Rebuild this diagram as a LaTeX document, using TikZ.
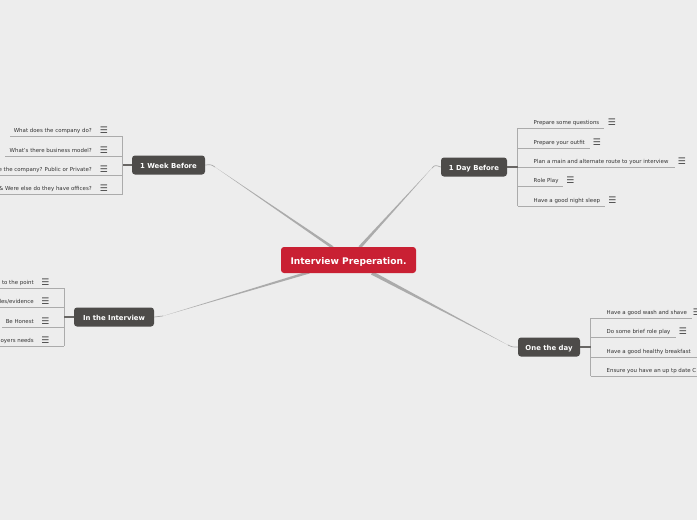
\documentclass[tikz,border=0pt]{standalone}
\usepackage{fontspec}
\setmainfont{DejaVu Sans}
\usetikzlibrary{calc}
\definecolor{paper}{HTML}{EDEDED}
\definecolor{rootred}{HTML}{C92033}
\definecolor{topicgrey}{HTML}{4D4B49}
\definecolor{branchgrey}{HTML}{ABABAB}
\tikzset{
    root/.style={fill=rootred, rounded corners=3pt, text=white, font=\bfseries\fontsize{9.1}{10}\selectfont, minimum width=135pt, minimum height=26pt, inner sep=0pt, text height=8.6pt, text depth=0pt},
    topic/.style={fill=topicgrey, rounded corners=3pt, text=white, font=\bfseries\fontsize{6.9}{8}\selectfont, minimum height=19pt, inner sep=0pt, text height=6pt, text depth=0pt},
    leaf/.style={text=black!80, font=\fontsize{5.45}{6.5}\selectfont, inner sep=0pt},
    menu/.style={font=\fontsize{9}{9}\selectfont, text=black!75, inner sep=0pt},
    branch/.style={draw=black!33, line width=1pt},
    stem/.style={draw=topicgrey!85, line width=1.5pt},
    link/.style={draw=branchgrey, line width=0.7pt},
    taper/.style={fill=branchgrey}
}
\begin{document}
\begin{tikzpicture}[x=1pt, y=-1pt]
    \useasboundingbox[fill=paper] (0,0) rectangle (697,520);
    \clip (0,0) rectangle (697,520);

    % main links
    \coordinate (a1) at (332,247);
    \coordinate (a2) at (360,247);
    \coordinate (a3) at (310,272);
    \coordinate (a4) at (372,273);
    \coordinate (e1) at (215,167);
    \coordinate (e2) at (432,168);
    \coordinate (e3) at (163,316);
    \coordinate (e4) at (508,345);
    \fill[taper] ($(a1)+(-1.5,0.6)$) -- (e1) -- ($(a1)+(1.5,-0.6)$) -- cycle;
    \fill[taper] ($(a2)+(-1.5,-0.6)$) -- (e2) -- ($(a2)+(1.5,0.6)$) -- cycle;
    \fill[taper] ($(a3)+(0.4,-1.5)$) -- (e3) -- ($(a3)+(-0.4,1.5)$) -- cycle;
    \fill[taper] ($(a4)+(1,-1.5)$) -- (e4) -- ($(a4)+(-1,1.5)$) -- cycle;

    \node[root] (prep) at (348.5,260) {Interview Preperation.};
    \node[topic, minimum width=73pt] (week) at (168.5,165) {1 Week Before};
    \node[topic, minimum width=66pt] (day) at (474,167) {1 Day Before};
    \node[topic, minimum width=80pt] (inter) at (114,317) {In the Interview};
    \node[topic, minimum width=62pt] (onday) at (549,347) {One the day};

    \draw[link] (e1) .. controls (211,164.5) .. (week.east);
    \draw[link] (e2) .. controls (435,165) .. (day.west);
    \draw[link] (e3) .. controls (159,317) .. (inter.east);
    \draw[link] (e4) .. controls (512,347) .. (onday.west);

    % 1 week before
    \foreach \name/\y/\from/\txt in {
        w1/136/10/What does the company do?,
        w2/156/5/What's there business model?,
        w3/175/0/e the company? Public or Private?,
        w4/194/0/\& Were else do they have offices?} {
        \draw[branch] (\from,\y) -- (122.5,\y);
        \node[leaf, anchor=base east] (\name) at (92,\y-4) {\txt};
        \node[menu] at (104,\y-6) {\char"2630};
    }
    \draw[branch] (122.5,136) -- (122.5,194);
    \draw[stem] (week.west) -- (122.5,165);

    % 1 day before
    \foreach \name/\y/\to/\mx/\txt in {
        d1/128/604/612/Prepare some questions,
        d2/148/590/597/Prepare your outfit,
        d3/167/675/682/Plan a main and alternate route to your interview,
        d4/186/563/570.5/Role Play,
        d5/206/605/612.5/Have a good night sleep} {
        \draw[branch] (517.5,\y) -- (\to,\y);
        \node[leaf, anchor=base west] (\name) at (533.5,\y-4) {\txt};
        \node[menu] at (\mx,\y-6) {\char"2630};
    }
    \draw[branch] (517.5,128) -- (517.5,206);
    \draw[stem] (day.east) -- (517.5,167);

    % in the interview
    \foreach \name/\y/\from/\txt in {
        i1/288/0/to the point,
        i2/307/0/{les/evidence},
        i3/327/2/Be Honest,
        i4/346/0/oyers needs} {
        \draw[branch] (\from,\y) -- (64,\y);
        \node[leaf, anchor=base east] (\name) at (34,\y-4) {\txt};
        \node[menu] at (45.5,\y-6) {\char"2630};
    }
    \draw[branch] (64,288) -- (64,346);
    \draw[stem] (inter.west) -- (64,317);

    % one the day
    \foreach \name/\y/\to/\txt in {
        o1/318/692/Have a good wash and shave,
        o2/337/676/Do some brief role play,
        o3/357/697/Have a good healthy breakfast,
        o4/376/697/Ensure you have an up tp date C} {
        \draw[branch] (590.5,\y) -- (\to,\y);
        \node[leaf, anchor=base west] (\name) at (606.5,\y-4) {\txt};
    }
    \node[menu] at (697,312) {\char"2630};
    \node[menu] at (683,331) {\char"2630};
    \draw[branch] (590.5,318) -- (590.5,376);
    \draw[stem] (onday.east) -- (590.5,347);
\end{tikzpicture}
\end{document}
